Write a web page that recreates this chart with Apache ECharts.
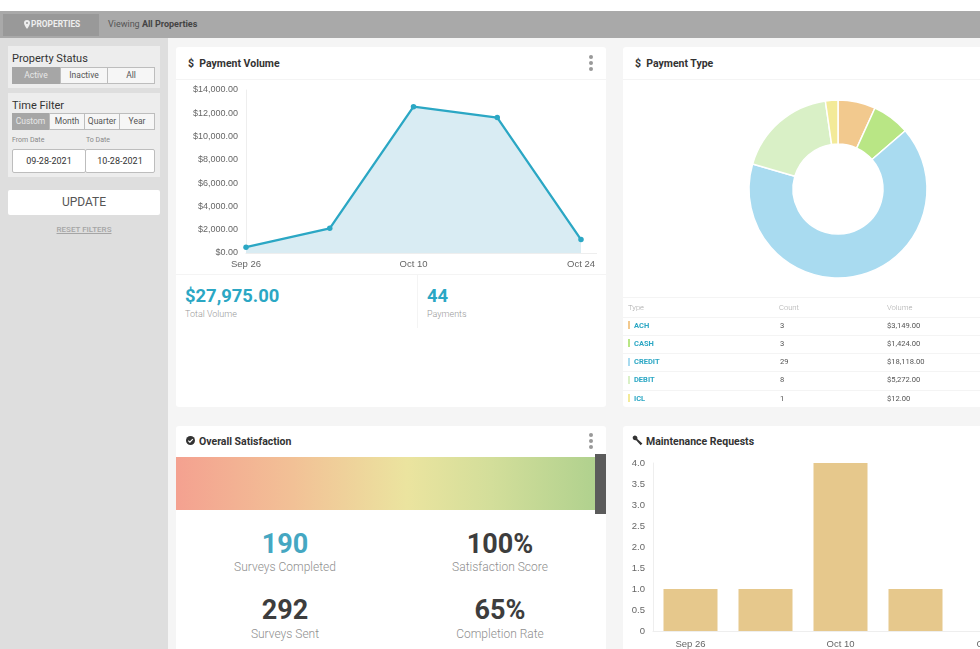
<!DOCTYPE html>
<html>
<head>
<meta charset="utf-8">
<title>Dashboard</title>
<script src="https://cdn.jsdelivr.net/npm/echarts@6/dist/echarts.min.js"></script>
<style>
html, body { margin: 0; padding: 0; width: 980px; height: 649px; overflow: hidden; background: #fff; font-family: Roboto, sans-serif; }
div, span { position: absolute; box-sizing: border-box; white-space: nowrap; }
.panel { background: #fff; border-radius: 3px; overflow: hidden; }
.box { background: #ededed; }
.title { font-size: 10.5px; font-weight: 700; color: #333; }
.seg { border: 1px solid #bdbdbd; background: #f6f6f6; color: #555; font-size: 8.5px; text-align: center; }
.seg.on { background: #a6a6a6; border-color: #a6a6a6; color: #e8e8e8; }
.rule { background: #f4f4f4; height: 1px; }
.dot { width: 4px; height: 4px; border-radius: 2px; background: #999; }
.big { font-size: 27px; font-weight: 700; color: #3d3d3d; text-align: center; width: 200px; }
.small { font-size: 12px; font-weight: 300; color: #8f8f8f; text-align: center; width: 200px; }
.cell { font-size: 7.6px; color: #555; }
</style>
</head>
<body>
<div style="left:0;top:11px;width:980px;height:638px;background:#f5f5f5"></div>
<div style="left:0;top:11px;width:168px;height:638px;background:#dedede"></div>
<div style="left:0;top:11px;width:980px;height:27px;background:#a9a9a9"></div>
<div style="left:3px;top:14px;width:96px;height:22px;background:#999"></div>
<svg style="position:absolute;left:24px;top:20px" width="6" height="9" viewBox="0 0 6 9"><path d="M3 0a3 3 0 0 1 3 3c0 2-3 6-3 6S0 5 0 3a3 3 0 0 1 3-3z" fill="#eee"/><circle cx="3" cy="3" r="1" fill="#999"/></svg>
<div style="left:31px;top:19px;font-size:8.4px;font-weight:700;color:#eee">PROPERTIES</div>
<div style="left:108px;top:19px;font-size:9px;color:#555">Viewing <b style="color:#444">All Properties</b></div>

<div class="box" style="left:8px;top:46px;width:152px;height:42px"></div>
<div style="left:12px;top:52px;font-size:11px;color:#333">Property Status</div>
<div class="seg on" style="left:12px;top:67px;width:48px;height:17px;line-height:15px">Active</div>
<div class="seg" style="left:60px;top:67px;width:48px;height:17px;line-height:15px">Inactive</div>
<div class="seg" style="left:107px;top:67px;width:48px;height:17px;line-height:15px">All</div>

<div class="box" style="left:8px;top:93px;width:152px;height:84px"></div>
<div style="left:12px;top:99px;font-size:11px;color:#333">Time Filter</div>
<div class="seg on" style="left:12px;top:113px;width:37px;height:17px;line-height:15px">Custom</div>
<div class="seg" style="left:49px;top:113px;width:36px;height:17px;line-height:15px">Month</div>
<div class="seg" style="left:84px;top:113px;width:36px;height:17px;line-height:15px">Quarter</div>
<div class="seg" style="left:119px;top:113px;width:36px;height:17px;line-height:15px">Year</div>
<div style="left:12px;top:136px;font-size:7px;color:#888">From Date</div>
<div style="left:86px;top:136px;font-size:7px;color:#888">To Date</div>
<div class="seg" style="left:12px;top:149px;width:74px;height:24px;line-height:22px;background:#fff;color:#333;font-size:9px;border-radius:2px">09-28-2021</div>
<div class="seg" style="left:85px;top:149px;width:70px;height:24px;line-height:22px;background:#fff;color:#333;font-size:9px;border-radius:2px">10-28-2021</div>
<div style="left:8px;top:190px;width:152px;height:25px;line-height:25px;background:#fff;text-align:center;font-size:12px;color:#555;border-radius:2px">UPDATE</div>
<div style="left:8px;top:225px;width:152px;text-align:center;font-size:8px;font-weight:500;color:#a5a5a5;text-decoration:underline">RESET FILTERS</div>

<!-- payment volume -->
<div class="panel" style="left:176px;top:47px;width:430px;height:360px">
  <div class="rule" style="left:0;top:32px;width:430px"></div>
  <div class="rule" style="left:0;top:227px;width:430px"></div>
  <div style="left:241px;top:228px;width:1px;height:53px;background:#f4f4f4"></div>
  <div class="title" style="left:12px;top:10px">$&nbsp;&nbsp;Payment Volume</div>
  <div class="dot" style="left:413px;top:8px"></div><div class="dot" style="left:413px;top:14px"></div><div class="dot" style="left:413px;top:20px"></div>
  <div id="totalVolume" style="left:9px;top:238px;font-size:18.4px;font-weight:700;color:#2ba7c4"></div>
  <div style="left:9px;top:262px;font-size:9px;font-weight:300;color:#999">Total Volume</div>
  <div id="paymentCount" style="left:251px;top:238px;font-size:18.4px;font-weight:700;color:#2ba7c4"></div>
  <div style="left:251px;top:262px;font-size:9px;font-weight:300;color:#999">Payments</div>
  <div id="lineChart" style="left:0;top:33px;width:430px;height:194px"></div>
  <div class="rule" style="left:405px;top:206px;width:16px;background:#eeeeee"></div>
</div>

<!-- payment type -->
<div class="panel" style="left:623px;top:47px;width:370px;height:360px">
  <div class="rule" style="left:0;top:32px;width:370px"></div>
  <div class="title" style="left:12px;top:10px">$&nbsp;&nbsp;Payment Type</div>
  <div id="pieChart" style="left:0;top:33px;width:370px;height:217px"></div>
  <div id="typeTable" style="left:0;top:250px;width:370px;height:110px"></div>
</div>

<!-- overall satisfaction -->
<div class="panel" style="left:176px;top:426px;width:430px;height:240px">
  <svg style="position:absolute;left:10px;top:10px" width="9" height="9" viewBox="0 0 9 9"><circle cx="4.5" cy="4.5" r="4.5" fill="#333"/><path d="M2.3 4.6l1.6 1.6 2.9-3" stroke="#fff" stroke-width="1.2" fill="none"/></svg>
  <div class="title" style="left:23px;top:9px">Overall Satisfaction</div>
  <div class="dot" style="left:413px;top:7px"></div><div class="dot" style="left:413px;top:13px"></div><div class="dot" style="left:413px;top:19px"></div>
  <div style="left:0;top:31px;width:420px;height:53px;background:linear-gradient(90deg,#f4a190 0%,#f2c196 28%,#ebe49f 55%,#d3de9a 75%,#b0d18e 100%)"></div>
  <div style="left:419px;top:28px;width:11px;height:60px;background:#5b5b5b"></div>
  <div class="big" style="left:9px;top:102px;color:#45a7c2">190</div>
  <div class="small" style="left:9px;top:134px">Surveys Completed</div>
  <div class="big" style="left:224px;top:102px">100%</div>
  <div class="small" style="left:224px;top:134px">Satisfaction Score</div>
  <div class="big" style="left:9px;top:168px">292</div>
  <div class="small" style="left:9px;top:201px">Surveys Sent</div>
  <div class="big" style="left:224px;top:168px">65%</div>
  <div class="small" style="left:224px;top:201px">Completion Rate</div>
</div>

<!-- maintenance -->
<div class="panel" style="left:623px;top:426px;width:430px;height:240px">
  <svg style="position:absolute;left:9px;top:9px" width="11" height="11" viewBox="0 0 11 11"><path d="M1 1.5l1.6-1a3 3 0 0 1 2.8 3.4l5 4.6-1.7 1.7-4.6-5A3 3 0 0 1 .6 3z" fill="#333"/></svg>
  <div class="title" style="left:23px;top:9px">Maintenance Requests</div>
  <div id="barChart" style="left:0;top:28px;width:430px;height:212px"></div>
</div>

<script>
// payment volume
var lineDates = ['Sep 26', 'Oct 3', 'Oct 10', 'Oct 17', 'Oct 24'];
var lineValues = [500, 2120, 12570, 11630, 1155];
var totalVolume = '$27,975.00';
var paymentCount = '44';

// payment type
var typeNames = ['ACH', 'CASH', 'CREDIT', 'DEBIT', 'ICL'];
var typeCounts = [3, 3, 29, 8, 1];
var typeVolumes = ['$3,149.00', '$1,424.00', '$18,118.00', '$5,272.00', '$12.00'];
var typeColors = ['#f2c98e', '#b9e685', '#a9dbf0', '#d9f0c6', '#f3ea98'];

// maintenance requests
var barDates = ['Sep 26', 'Oct 3', 'Oct 10', 'Oct 17', 'Oct 24'];
var barValues = [1, 1, 4, 1, 0];

var axisFont = 'Liberation Sans';

document.getElementById('totalVolume').textContent = totalVolume;
document.getElementById('paymentCount').textContent = paymentCount;

var lineChart = echarts.init(document.getElementById('lineChart'));
lineChart.setOption({
    animation: false,
    grid: { left: 70, right: 25, top: 10, height: 163 },
    xAxis: {
        type: 'category',
        data: lineDates,
        boundaryGap: false,
        axisTick: { show: false },
        axisLine: { lineStyle: { color: '#eeeeee' } },
        axisLabel: { interval: 1, color: '#666', fontFamily: axisFont, fontSize: 9.5, margin: 6 }
    },
    yAxis: {
        type: 'value',
        min: 0,
        max: 14000,
        interval: 2000,
        splitLine: { show: false },
        axisTick: { show: false },
        axisLine: { show: true, lineStyle: { color: '#eeeeee' } },
        axisLabel: {
            color: '#666', fontFamily: axisFont, fontSize: 9, margin: 8,
            formatter: function (v) {
                return '$' + v.toLocaleString('en-US', { minimumFractionDigits: 2 });
            }
        }
    },
    series: [{
        type: 'line',
        data: lineValues,
        symbol: 'circle',
        symbolSize: 5.5,
        lineStyle: { color: '#2ba7c4', width: 2.3 },
        itemStyle: { color: '#2ba7c4' },
        areaStyle: { color: '#d9ecf3', opacity: 1 }
    }]
});

var pieChart = echarts.init(document.getElementById('pieChart'));
pieChart.setOption({
    animation: false,
    series: [{
        type: 'pie',
        center: [215, 109],
        radius: [45, 89],
        startAngle: 90,
        label: { show: false },
        labelLine: { show: false },
        itemStyle: { borderColor: '#fff', borderWidth: 1.5 },
        data: typeNames.map(function (name, i) {
            return { name: name, value: typeCounts[i], itemStyle: { color: typeColors[i] } };
        })
    }]
});

// table under the donut
var table = document.getElementById('typeTable');
function addCell(text, left, top, style) {
    var el = document.createElement('div');
    el.className = 'cell';
    el.textContent = text;
    el.style.left = left + 'px';
    el.style.top = top + 'px';
    if (style) el.style.cssText += style;
    table.appendChild(el);
}
function addRule(top) {
    var el = document.createElement('div');
    el.className = 'rule';
    el.style.cssText = 'left:0;width:370px;top:' + top + 'px';
    table.appendChild(el);
}
addRule(0);
addCell('Type', 5, 6, 'color:#aaa;font-weight:300');
addCell('Count', 156, 6, 'color:#aaa;font-weight:300');
addCell('Volume', 264, 6, 'color:#aaa;font-weight:300');
typeNames.forEach(function (name, i) {
    var top = 23.5 + i * 18.3;
    addRule(top - 4);
    var mark = document.createElement('div');
    mark.style.cssText = 'left:5px;width:2px;height:8px;top:' + (top + 0.5) + 'px;background:' + typeColors[i];
    table.appendChild(mark);
    addCell(name, 11, top, 'color:#2ba7c4;font-weight:700;font-size:7.5px');
    addCell(String(typeCounts[i]), 157, top);
    addCell(typeVolumes[i], 264, top);
});

var barChart = echarts.init(document.getElementById('barChart'));
barChart.setOption({
    animation: false,
    grid: { left: 30, width: 375, top: 9, height: 168 },
    xAxis: {
        type: 'category',
        data: barDates,
        axisTick: { show: false },
        axisLine: { lineStyle: { color: '#eeeeee' } },
        axisLabel: { interval: 1, color: '#666', fontFamily: axisFont, fontSize: 9.5, margin: 8 }
    },
    yAxis: {
        type: 'value',
        min: 0,
        max: 4,
        interval: 0.5,
        splitLine: { show: false },
        axisTick: { show: false },
        axisLine: { show: true, lineStyle: { color: '#eeeeee' } },
        axisLabel: {
            color: '#666', fontFamily: axisFont, fontSize: 9.5, margin: 8,
            formatter: function (v) { return v === 0 ? '0' : v.toFixed(1); }
        }
    },
    series: [{
        type: 'bar',
        data: barValues,
        barWidth: 54,
        itemStyle: { color: '#e6c88c' }
    }]
});
</script>
</body>
</html>
